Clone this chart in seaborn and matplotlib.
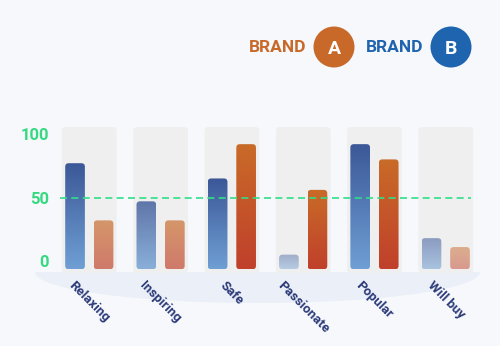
import numpy as np
import pandas as pd
import matplotlib
matplotlib.use("Agg")
import matplotlib.pyplot as plt
import seaborn as sns
from matplotlib.patches import FancyBboxPatch, Ellipse, Polygon
from matplotlib.colors import to_rgb

# ---------------- data ----------------
categories = ["Relaxing", "Inspiring", "Safe", "Passionate", "Popular", "Will buy"]
brand_b = [77, 47, 65, 5, 92, 18]    # blue bars (left in each pair)
brand_a = [32, 32, 92, 56, 80, 11]   # orange bars (right in each pair)
series_names = ["BRAND B", "BRAND A"]
y_ticks = [0, 50, 100]
y_tick_labels = ["0", "50", "100"]
reference_value = 50

# ---------------- style ----------------
W, H, DPI = 500, 346, 100
BG = "#f6f8fc"
PANEL = "#efefef"
BAND = "#eaeff8"
BLUE_TOP, BLUE_BOT = "#3b5797", "#6f9fd4"
ORANGE_TOP, ORANGE_BOT = "#c96b28", "#c0402b"
LEG_ORANGE, LEG_BLUE = "#c8692a", "#1e64af"
GREEN = "#35d980"
LINE_GREEN = "#2ee088"
NAVY = "#2b3a78"
BASE = -6.5

sns.set_theme(style="white")
plt.rcParams["font.family"] = ["Roboto", "DejaVu Sans"]

fig = plt.figure(figsize=(W / DPI, H / DPI), dpi=DPI, facecolor=BG)
left_px, right_px, top_px, bot_px = 55, 490, 100, 276
ax = fig.add_axes([left_px / W, 1 - bot_px / H, (right_px - left_px) / W, (bot_px - top_px) / H])
ax.set_facecolor("none")

df = pd.DataFrame({
    "category": categories * 2,
    "brand": [series_names[0]] * len(categories) + [series_names[1]] * len(categories),
    "value": brand_b + brand_a,
})
sns.barplot(data=df, x="category", y="value", hue="brand", hue_order=series_names,
            order=categories, palette=[BLUE_BOT, ORANGE_BOT], width=0.8, gap=0.31,
            legend=False, errorbar=None, ax=ax)

# pixel <-> data mapping
x0_px, px_per_x = 89.3, 71.29
y0_px, px_per_y = 261.0, 1.27
xlim = ((left_px - x0_px) / px_per_x, (right_px - x0_px) / px_per_x)
ylim = ((y0_px - bot_px) / px_per_y, (y0_px - top_px) / px_per_y)
ma = px_per_x / px_per_y

# background panels
for i in range(len(categories)):
    p = FancyBboxPatch((i - 0.3835, -9.4), 0.767, 114.9,
                       boxstyle=f"round,pad=0,rounding_size={4 / px_per_x}",
                       mutation_aspect=ma, facecolor=PANEL, edgecolor="none", zorder=1)
    ax.add_patch(p)

# bottom band
cx = (257.5 - x0_px) / px_per_x
cy = (y0_px - 272) / px_per_y
rx = 222.5 / px_per_x
ry = 31 / px_per_y
theta = np.linspace(np.pi, 2 * np.pi, 200)
pts = np.column_stack([cx + rx * np.cos(theta), cy + ry * np.sin(theta)])
ax.add_patch(Polygon(pts, closed=True, facecolor=BAND, edgecolor="none", zorder=0.5, clip_on=False))

# gradient bars replacing seaborn rectangles
bars = [r for r in ax.patches if type(r).__name__ == "Rectangle"]
t = np.linspace(0, 1, 128)[:, None]
for rect in bars:
    bx = rect.get_x()
    bw = rect.get_width()
    top = rect.get_y() + rect.get_height()
    center = bx + bw / 2
    idx = int(round(center))
    is_blue = center < idx
    ct, cb = (BLUE_TOP, BLUE_BOT) if is_blue else (ORANGE_TOP, ORANGE_BOT)
    alpha = 1.0 if top >= reference_value else 0.4 + 0.0085 * top
    rect.set_visible(False)
    clip = FancyBboxPatch((bx, BASE), bw, top - BASE,
                          boxstyle=f"round,pad=0,rounding_size={3.5 / px_per_x}",
                          mutation_aspect=ma, facecolor="none", edgecolor="none",
                          transform=ax.transData)
    ax.add_patch(clip)
    grad = np.zeros((128, 1, 4))
    grad[:, 0, :3] = (1 - t) * np.array(to_rgb(ct)) + t * np.array(to_rgb(cb))
    grad[:, 0, 3] = alpha
    im = ax.imshow(grad, extent=[bx, bx + bw, BASE, top], aspect="auto", origin="upper",
                   interpolation="bilinear", zorder=3)
    im.set_clip_path(clip)

# reference line
ax.hlines(reference_value, -0.41, 5.355, colors=LINE_GREEN, linewidth=1.2,
          linestyles=(0, (4.2, 2.6)), zorder=4)

ax.set_xlim(*xlim)
ax.set_ylim(*ylim)
ax.set_aspect("auto")
for s in ax.spines.values():
    s.set_visible(False)
ax.grid(False)
ax.set_xlabel("")
ax.set_ylabel("")
ax.set_xticks(range(len(categories)))
ax.set_xticklabels(categories, rotation=-45, ha="center", va="top",
                   fontsize=9.5, fontweight="bold", color=NAVY)
ax.set_yticks(y_ticks)
ax.set_yticklabels(y_tick_labels, fontsize=12, fontweight="bold", color=GREEN)
ax.tick_params(axis="x", length=0, pad=2.2)
ax.tick_params(axis="y", length=0, pad=4.3)

# legend
def badge(text_right_px, circ_cx, name, letter, color):
    fig.text(text_right_px / W, 1 - 52 / H, name, ha="right", va="baseline",
             fontsize=12.5, fontweight="bold", color=color)
    fig.add_artist(Ellipse((circ_cx / W, 1 - 47 / H), 41 / W, 41 / H,
                           transform=fig.transFigure, facecolor=color, edgecolor="none"))
    fig.text(circ_cx / W, 1 - 54 / H, letter, ha="center", va="baseline",
             fontsize=14, fontweight="bold", color="white")

badge(306, 334, "BRAND", "A", LEG_ORANGE)
badge(423, 451, "BRAND", "B", LEG_BLUE)

fig.savefig("out.png", dpi=DPI, facecolor=BG)
